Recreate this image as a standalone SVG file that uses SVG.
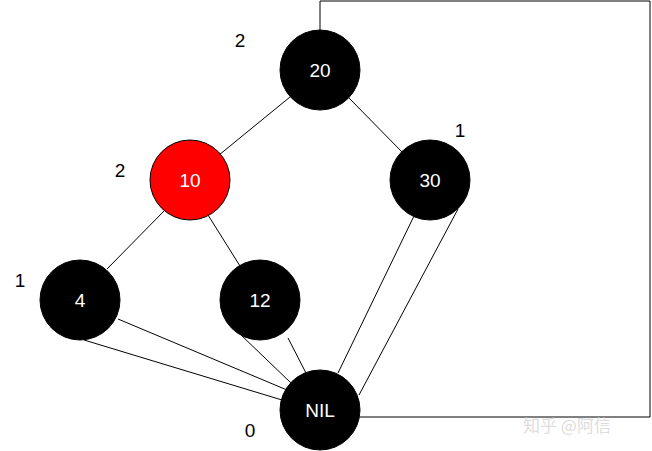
<svg xmlns="http://www.w3.org/2000/svg" width="652" height="451" viewBox="0 0 652 451">
<style>
.n{stroke:#000;stroke-width:1}
.t{font-family:"Liberation Sans",Arial,sans-serif;font-size:19px;fill:#fff;text-anchor:middle;dominant-baseline:central}
.l{font-family:"Liberation Sans",Arial,sans-serif;font-size:19px;fill:#000;text-anchor:middle;dominant-baseline:central}
.e{stroke:#000;stroke-width:1;fill:none}
</style>
<rect width="652" height="451" fill="#fff"/>
<g id="connectors">
<path class="e" d="M320,30 V1 H650 V417 H360"/>
<line class="e" x1="290" y1="97" x2="219" y2="155"/>
<line class="e" x1="349" y1="98" x2="403" y2="153"/>
<line class="e" x1="165" y1="210" x2="107" y2="269"/>
<line class="e" x1="208" y1="215" x2="240" y2="266"/>
<line class="e" x1="414" y1="216" x2="338" y2="373"/>
<line class="e" x1="458" y1="209" x2="359" y2="395"/>
<line class="e" x1="118" y1="319" x2="287" y2="390"/>
<line class="e" x1="84" y1="340" x2="282" y2="400"/>
<line class="e" x1="240" y1="334" x2="291" y2="383"/>
<line class="e" x1="288" y1="338" x2="306" y2="373"/>
</g>
<g id="n20"><circle class="n" cx="320" cy="70" r="40" fill="#000"/><text class="t" x="320" y="70">20</text></g>
<g id="n10"><circle class="n" cx="190" cy="180" r="40" fill="#f00"/><text class="t" x="190" y="180">10</text></g>
<g id="n30"><circle class="n" cx="430" cy="180" r="40" fill="#000"/><text class="t" x="430" y="180">30</text></g>
<g id="n4"><circle class="n" cx="80" cy="300" r="40" fill="#000"/><text class="t" x="80" y="300">4</text></g>
<g id="n12"><circle class="n" cx="260" cy="300" r="40" fill="#000"/><text class="t" x="260" y="300">12</text></g>
<g id="nNIL"><circle class="n" cx="320" cy="410" r="40" fill="#000"/><text class="t" x="320" y="410">NIL</text></g>
<g id="labels">
<text class="l" x="240" y="40">2</text>
<text class="l" x="120" y="170">2</text>
<text class="l" x="20" y="280">1</text>
<text class="l" x="460" y="130">1</text>
<text class="l" x="250" y="430">0</text>
<text x="567" y="432" font-family="'Noto Sans CJK SC',sans-serif" font-size="17" fill="#ddd" text-anchor="middle">知乎 @阿信</text>
</g>
</svg>
